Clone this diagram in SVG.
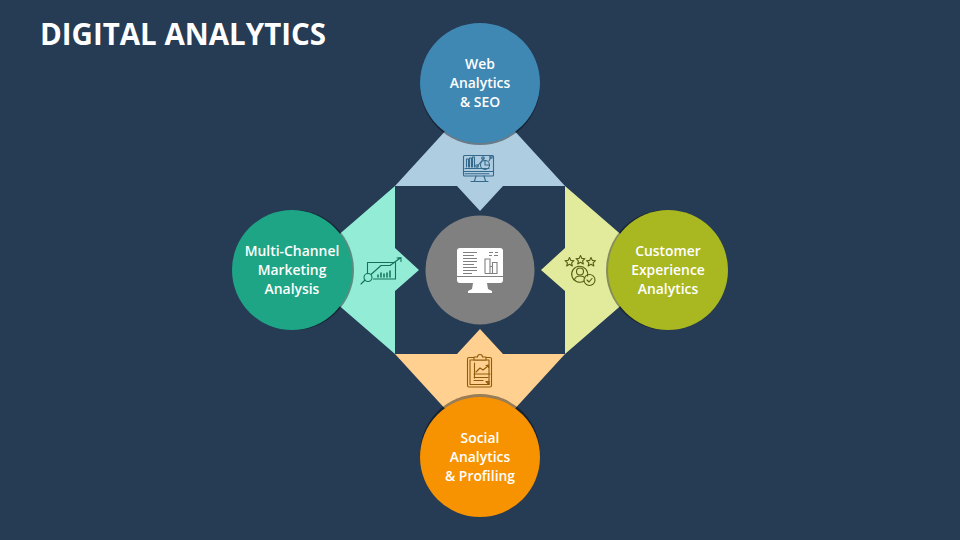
<svg xmlns="http://www.w3.org/2000/svg" width="960" height="540" viewBox="0 0 960 540">
<style>
text{font-family:"Open Sans","Liberation Sans",sans-serif;fill:#fff;text-anchor:middle}
.l{font-size:13.9px;font-weight:600}
.s{fill:#000;opacity:.4}
.i{fill:none;stroke-width:1.100;stroke-linejoin:round;stroke-linecap:round}
.g{fill:none;stroke:#808080;stroke-width:1.1}
</style>
<rect width="960" height="540" fill="#263b54"/>
<text x="183" y="45" textLength="286" lengthAdjust="spacingAndGlyphs" style="font-size:31px;font-weight:700">DIGITAL ANALYTICS</text>
<g id="connectors">
<polygon points="480,93 565,186 503,186 480,211 457,186 395,186" fill="#afcde1"/>
<polygon points="298,270 395,186 395,248 419,270 395,291 395,354" fill="#93edd6"/>
<polygon points="662,270 565,186 565,248 541,270 565,291 565,354" fill="#e2ea9c"/>
<polygon points="480,447 565,354 503,354 480,329 457,354 395,354" fill="#ffd08f"/>
</g>
<g id="center">
<circle cx="480" cy="270" r="54.5" fill="#808080"/>
<path d="M460 248h40a3 3 0 0 1 3 3v29a3 3 0 0 1-3 3h-40a3 3 0 0 1-3-3v-29a3 3 0 0 1 3-3z" fill="#fff"/>
<path d="M473 283h14l1 6 4 2v2h-24v-2l4-2z" fill="#fff"/>
<path class="g" d="M457 276.500h46M463 252.500h14M463 255.500h11M463 258.500h14M463 261.500h14M463 264.500h11M463 267.500h14M463 270.500h14M463 273.500h9M489 252.500h4M495 252.500h3M489 255.500h3M494 255.500h4"/>
<path class="g" stroke-width="1.300" d="M485 273.500v-14.500h5v14.500M490 273.500v-7h2.500v7M492.500 273.500v-11h4.500v11zM485 273.500h12"/>
</g>
<g id="web">
<circle class="s" cx="480" cy="85" r="60"/>
<circle cx="480" cy="83" r="60" fill="#3f88b4"/>
<text class="l" x="480" y="69">Web</text><text class="l" x="480" y="88">Analytics</text><text class="l" x="480" y="107">&amp; SEO</text>
<g class="i" stroke="#34698b">
<rect x="463.500" y="155.500" width="30" height="20.500" rx="1"/>
<path d="M464 171.500h29M465 168.500h24M465 173.800h24M476 176l-1.500 5M484 176l1.500 5M471 181.500h17"/>
<path d="M466.500 167v-8h2v8M469.500 167v-9h2v9M472.500 167v-10h2v10"/>
<circle cx="485" cy="165" r="4.500"/><path d="M485 165v-4.500M485 165h4.500M477.500 166l5-6 1-2M489 161l2-4"/>
<circle cx="477" cy="166" r="1.300"/><circle cx="483" cy="158" r="1.300"/><circle cx="491" cy="157" r="1.300"/>
</g>
</g>
<g id="marketing">
<circle class="s" cx="294" cy="270" r="60"/>
<circle cx="292" cy="270" r="60" fill="#1ea585"/>
<text class="l" x="292" y="256">Multi-Channel</text><text class="l" x="292" y="275">Marketing</text><text class="l" x="292" y="294">Analysis</text>
<g class="i" stroke="#14705c">
<path d="M367.500 273v-10.500h28v16.500h-22"/>
<circle cx="368" cy="277.500" r="4"/>
<path d="M361 284l4-4M371 274.500l10-9h9l11-8M397 258l4-.5v4"/>
<path stroke-width="1.500" d="M378 277v-2M381 277v-4M384 277v-3M387 277v-4M390 277v-6"/>
</g>
</g>
<g id="customer">
<circle class="s" cx="666" cy="270" r="60"/>
<circle cx="668" cy="270" r="60" fill="#a9b720"/>
<text class="l" x="668" y="256">Customer</text><text class="l" x="668" y="275">Experience</text><text class="l" x="668" y="294">Analytics</text>
<g class="i" stroke="#555d12">
<path d="M569.500 257.500l1.300 2.900 3.200.3-2.400 2.100.7 3.100-2.800-1.600-2.800 1.600.7-3.100-2.400-2.100 3.200-.3z"/>
<path d="M580.500 255.500l1.300 2.900 3.200.3-2.400 2.100.7 3.100-2.800-1.600-2.800 1.600.7-3.100-2.400-2.100 3.200-.3z"/>
<path d="M591 257.500l1.300 2.900 3.200.3-2.400 2.100.7 3.100-2.800-1.600-2.800 1.600.7-3.100-2.400-2.100 3.200-.3z"/>
<path d="M584 281a8 8 0 1 1 3.500-5"/>
<circle cx="580" cy="271.500" r="3.500"/>
<path d="M574.500 279.500c1-3 3-3.500 5.500-3.500s4 .5 5 2"/>
<circle cx="589.500" cy="280" r="5.500"/>
<path d="M587 280l2 2 3-3.500"/>
</g>
</g>
<g id="social">
<circle class="s" cx="480" cy="454" r="60"/>
<circle cx="480" cy="457" r="60" fill="#f79300"/>
<text class="l" x="480" y="443">Social</text><text class="l" x="480" y="462">Analytics</text><text class="l" x="480" y="481">&amp; Profiling</text>
<g class="i" stroke="#8f5a0a">
<rect x="467.500" y="357.500" width="24" height="29.500" rx="1.500"/>
<rect x="470" y="360" width="19" height="24.500"/>
<path d="M474 360v-3h3.500a2.500 2.500 0 0 1 5 0h3.500v3z" fill="#ffd08f"/>
<path d="M474.500 363v15M474 374h16M474 377.500h14M474 380.500h9"/>
<path d="M476 372l4-4 3 2 5-4M486 365.500l2.500-.5v2.500"/>
<path d="M489 384.500v-3h-3z"/>
</g>
</g>
</svg>
